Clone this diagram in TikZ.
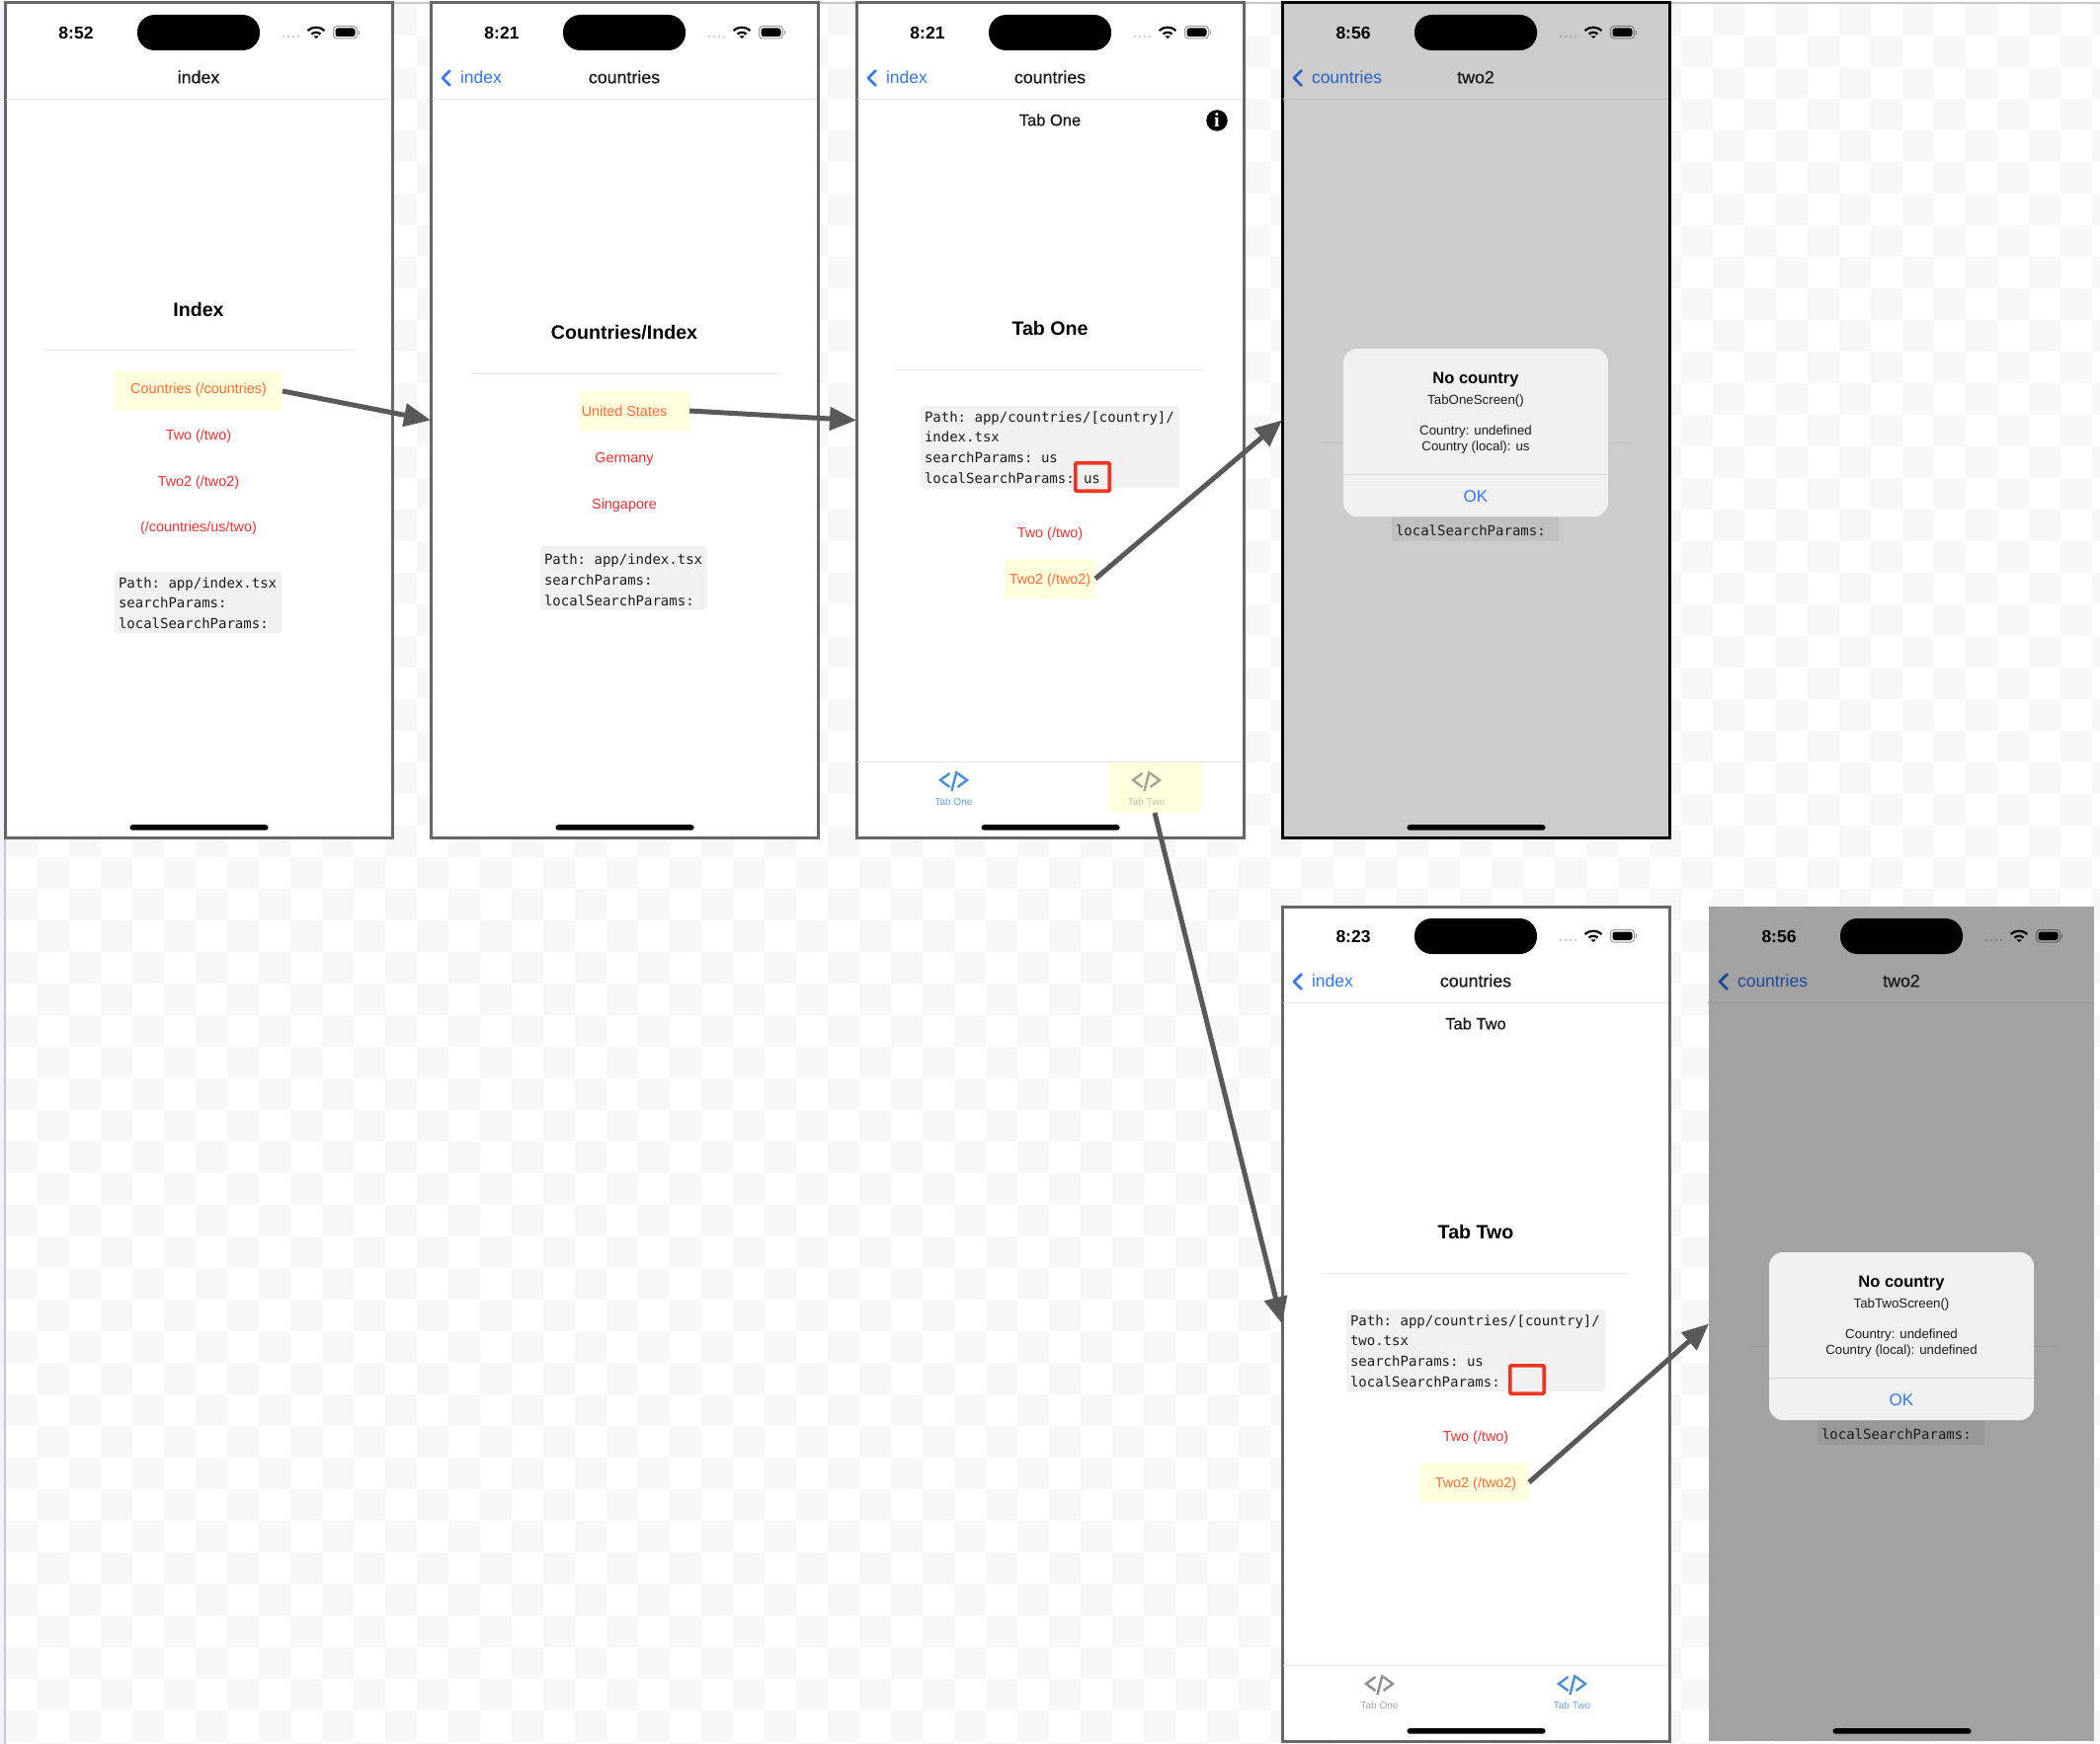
\documentclass[tikz,border=0pt]{standalone}
\usepackage{fontspec}
\setmainfont{Liberation Sans}
\setmonofont{DejaVu Sans Mono}
\newfontfamily\medfont[FakeBold=0.8]{Liberation Sans}
\newfontfamily\infofont{Liberation Serif}
\usetikzlibrary{arrows.meta}
\definecolor{chk}{HTML}{F7F7F7}
\definecolor{edgegray}{HTML}{C8C8C8}
\definecolor{phoneline}{HTML}{666666}
\definecolor{hair}{HTML}{E8E8E8}
\definecolor{iosblue}{HTML}{3478F6}
\definecolor{linkred}{HTML}{F32E2E}
\definecolor{hlorange}{HTML}{FF6A35}
\definecolor{hlfill}{HTML}{FFFFDD}
\definecolor{codefill}{HTML}{F1F1F1}
\definecolor{redbox}{HTML}{EE3524}
\definecolor{arrowgray}{HTML}{595959}
\definecolor{tabblue}{HTML}{4A90D9}
\definecolor{tabgray}{HTML}{8E8E8E}
\definecolor{alertfill}{HTML}{F0F0F0}
\definecolor{inktext}{HTML}{1C1C1C}
\definecolor{boxfour}{HTML}{C0C0C0}
\definecolor{boxsix}{HTML}{989898}
\definecolor{hairfour}{HTML}{BCBCBC}
\definecolor{hairsix}{HTML}{959595}
\newcommand{\fsz}[1]{\fontsize{#1}{#1}\selectfont}
\tikzset{
  txt/.style={inner sep=0pt,outer sep=0pt,anchor=mid,text=inktext,yshift=-2.7pt},
  phonebox/.style={rectangle,draw=phoneline,line width=3pt,fill=white,minimum width=392pt,minimum height=845pt,inner sep=0pt,outer sep=0pt},
  graybox/.style={rectangle,minimum width=390pt,minimum height=845pt,inner sep=0pt,outer sep=0pt},
  timelbl/.style={txt,font=\bfseries\fsz{17.5},text=black,yshift=-1.3pt},
  navtitle/.style={txt,font=\medfont\fsz{17.8}},
  navback/.style={txt,anchor=mid west,font=\fsz{17.5}},
  heading/.style={txt,font=\bfseries\fsz{19.6},text=black,yshift=-2.3pt},
  tabtitle/.style={txt,font=\medfont\fsz{16.5}},
  redlink/.style={txt,font=\fsz{14.4},text=linkred},
  hllink/.style={txt,font=\fsz{14.4},text=hlorange},
  hlbox/.style={rectangle,fill=hlfill,inner sep=0pt,outer sep=0pt},
  code/.style={txt,anchor=mid west,font=\ttfamily\fsz{14},yshift=1pt},
  arrowline/.style={draw=arrowgray,line width=5pt,-{Triangle[length=27pt,width=23pt]}},
  alertsmall/.style={txt,font=\fsz{13.3}},
  tablbl/.style={txt,font=\fsz{10},yshift=2.7pt},
}
% prefix, time, icon ink
\newcommand{\statusbar}[3]{%
  \node[timelbl] (#1time) at (77,33) {#2};
  \fill[black,rounded corners=17.5pt] (139,15) rectangle (263,51);
  \foreach \d in {287,292,297,302}{\fill[black,opacity=0.2] (\d,37) circle (1.4pt);}
  \fill[#3] (320,39) -- (317.4,36.4) -- (322.6,36.4) -- cycle;
  \draw[#3,line width=2.2pt] (315.5,34.5) .. controls (318,32.2) and (322,32.2) .. (324.5,34.5);
  \draw[#3,line width=2.2pt] (311.5,31) .. controls (316,26.6) and (324,26.6) .. (328.5,31);
  \draw[black,opacity=0.4,line width=1pt,rounded corners=3.5pt] (337.5,26.5) rectangle (361.5,39);
  \fill[#3,rounded corners=2.5pt] (339.5,28.5) rectangle (359.5,37);
  \fill[black,opacity=0.4] (362.5,31) rectangle (363.5,35);
  \fill[#3,rounded corners=2.5pt] (131.5,835.2) rectangle (271.5,840.6);
}
\newcommand{\headerline}[1]{\draw[#1,line width=1pt] (6,100.5) -- (396,100.5);}
\newcommand{\backchev}[1]{\draw[#1,line width=2.8pt,line cap=round,line join=round] (24.5,71.5) -- (17,79) -- (24.5,86.5);}
\newcommand{\codeicon}[2]{%
  \begin{scope}[shift={(#1,790)}]
    \draw[#2,line width=2.4pt,line join=miter] (-4,-7) -- (-13.5,0) -- (-4,7);
    \draw[#2,line width=2.4pt] (3,-9) -- (-2,11);
    \draw[#2,line width=2.4pt,line join=miter] (4,-7) -- (13.5,0) -- (4,7);
  \end{scope}}
% prefix, box fill, hair colour, screen name, local value
\newcommand{\alertblock}[5]{%
  \draw[#3,line width=1pt] (45,448.5) -- (358,448.5);
  \fill[#2,rounded corners=3pt] (116,520) rectangle (285,548);
  \node[code,text=inktext] (#1lsp) at (120,538) {localSearchParams:};
  \fill[alertfill,rounded corners=14pt] (67,353) rectangle (335,523);
  \node[txt,font=\bfseries\fsz{16.5},text=black] (#1no) at (201,383) {No country};
  \node[alertsmall] (#1scr) at (201,404) {#4};
  \node[alertsmall] (#1cu) at (201,435) {Country: undefined};
  \node[alertsmall] (#1cl) at (201,451) {Country (local): #5};
  \draw[hair!85!gray,line width=1pt] (67,480.5) -- (335,480.5);
  \node[txt,font=\fsz{17},text=iosblue] (#1ok) at (201,503) {OK};
}
\begin{document}
\begin{tikzpicture}[x=1pt,y=-1pt]
\useasboundingbox (0,0) rectangle (2126,1766);
\fill[white] (0,0) rectangle (2126,1766);
% checkerboard
\begin{scope}
  \clip (0,0) rectangle (2126,1766);
  \foreach \r in {0,2,...,54}{\foreach \c in {0,2,...,66}{\fill[chk] ({6+32*\c},{4+32*\r}) rectangle ++(32,32);}}
  \foreach \r in {1,3,...,55}{\foreach \c in {1,3,...,65}{\fill[chk] ({6+32*\c},{4+32*\r}) rectangle ++(32,32);}}
\end{scope}
\fill[white] (0,0) rectangle (2126,2);
\fill[edgegray] (0,2) rectangle (2126,4);
\fill[white!93!blue!50!chk] (0,0) rectangle (4,1766);
\fill[edgegray] (4,2) rectangle (6,1766);

% phone frames
\node[phonebox] (p1) at (201,425.5) {};
\node[phonebox] (p2) at (632,425.5) {};
\node[phonebox] (p3) at (1063,425.5) {};
\node[phonebox,draw=black,fill={rgb,255:red,204;green,204;blue,204}] (p4) at (1494,425.5) {};
\node[phonebox] (p5) at (1494,1340.5) {};
\node[graybox,fill={rgb,255:red,162;green,162;blue,162}] (p6) at (1925,1340.5) {};

% ---------- phone 1
\statusbar{a}{8:52}{black}
\headerline{hair}
\node[navtitle] (atitle) at (201,79) {index};
\node[heading] (ahead) at (201,313) {Index};
\draw[hair,line width=1pt] (45,354.5) -- (358,354.5);
\node[hlbox,minimum width=170pt,minimum height=40pt] (acountries) at (201,396) {};
\node[hllink] (acountriest) at (201,393.5) {Countries (/countries)};
\node[redlink] (atwo) at (201,440) {Two (/two)};
\node[redlink] (atwotwo) at (201,487) {Two2 (/two2)};
\node[redlink] (aus) at (201,533) {(/countries/us/two)};
\fill[codefill,rounded corners=3pt] (116,579) rectangle (285,641);
\node[code] (ac1) at (120,591) {Path: app/index.tsx};
\node[code] (ac2) at (120,611) {searchParams:};
\node[code] (ac3) at (120,632) {localSearchParams:};

% ---------- phone 2
\begin{scope}[shift={(431,0)}]
\statusbar{b}{8:21}{black}
\headerline{hair}
\backchev{iosblue}
\node[navback,text=iosblue] (bback) at (35,79) {index};
\node[navtitle] (btitle) at (201,79) {countries};
\node[heading] (bhead) at (201,336) {Countries/Index};
\draw[hair,line width=1pt] (45,378.5) -- (358,378.5);
\node[hlbox,minimum width=111pt,minimum height=40pt] (bus) at (211.5,416) {};
\node[hllink] (bust) at (201,416) {United States};
\node[redlink] (bde) at (201,463) {Germany};
\node[redlink] (bsg) at (201,510) {Singapore};
\fill[codefill,rounded corners=3pt] (116,553) rectangle (285,618);
\node[code] (bc1) at (120,567.5) {Path: app/index.tsx};
\node[code] (bc2) at (120,588.5) {searchParams:};
\node[code] (bc3) at (120,609.5) {localSearchParams:};
\end{scope}

% ---------- phone 3
\begin{scope}[shift={(862,0)}]
\statusbar{c}{8:21}{black}
\headerline{hair}
\backchev{iosblue}
\node[navback,text=iosblue] (cback) at (35,79) {index};
\node[navtitle] (ctitle) at (201,79) {countries};
\node[tabtitle] (ctab) at (201,122) {Tab One};
\node[circle,fill=black,minimum size=21.5pt,inner sep=0pt] (cinfo) at (370,122) {};
\node[txt,text=white,font=\infofont\bfseries\fsz{20},yshift=-1.5pt] (cinfoi) at (370,122) {i};
\node[heading] (chead) at (201,332) {Tab One};
\draw[hair,line width=1pt] (45,374) -- (356,374);
\fill[codefill,rounded corners=3pt] (70,411) rectangle (332,494);
\node[code] (cc1) at (74,423) {Path: app/countries/[country]/};
\node[code] (cc2) at (74,443) {index.tsx};
\node[code] (cc3) at (74,464) {searchParams: us};
\node[code] (cc4) at (74,485) {localSearchParams:};
\node[code] (cc5) at (235,485) {us};
\draw[redbox,line width=3.6pt,rounded corners=1pt] (226.8,468.8) rectangle (261.2,497.2);
\node[redlink] (ctwo) at (201,539) {Two (/two)};
\node[hlbox,minimum width=92pt,minimum height=40pt] (ctwotwo) at (201,586) {};
\node[hllink] (ctwotwot) at (201,586) {Two2 (/two2)};
\draw[hair,line width=1pt] (6,771.5) -- (396,771.5);
\node[hlbox,minimum width=93pt,minimum height=51pt] (ctabtwo) at (307,797.5) {};
\codeicon{103.5}{tabblue}
\codeicon{298.5}{black!30!hlfill!60!tabgray}
\node[tablbl,text=tabblue!85] (cl1) at (103.5,813) {Tab One};
\node[tablbl,text=hlfill!45!tabgray] (cl2) at (298.5,813) {Tab Two};
\end{scope}

% ---------- phone 4
\begin{scope}[shift={(1293,0)}]
\statusbar{d}{8:56}{black}
\draw[hairfour,line width=1pt] (6,100.5) -- (396,100.5);
\backchev{iosblue!80!black}
\node[navback,text=iosblue!80!black] (dback) at (35,79) {countries};
\node[navtitle] (dtitle) at (201,79) {two2};
\alertblock{d}{boxfour}{hairfour}{TabOneScreen()}{us}
\end{scope}

% ---------- phone 5
\begin{scope}[shift={(1293,915)}]
\statusbar{e}{8:23}{black}
\headerline{hair}
\backchev{iosblue}
\node[navback,text=iosblue] (eback) at (35,79) {index};
\node[navtitle] (etitle) at (201,79) {countries};
\node[tabtitle] (etab) at (201,122) {Tab Two};
\node[heading] (ehead) at (201,332) {Tab Two};
\draw[hair,line width=1pt] (45,374) -- (356,374);
\fill[codefill,rounded corners=3pt] (70,411) rectangle (332,494);
\node[code] (ec1) at (74,423) {Path: app/countries/[country]/};
\node[code] (ec2) at (74,443) {two.tsx};
\node[code] (ec3) at (74,464) {searchParams: us};
\node[code] (ec4) at (74,485) {localSearchParams:};
\draw[redbox,line width=3.6pt,rounded corners=1pt] (235.8,467.8) rectangle (270.2,496.2);
\node[redlink] (etwo) at (201,539) {Two (/two)};
\node[hlbox,minimum width=111pt,minimum height=40pt] (etwotwo) at (199.5,586) {};
\node[hllink] (etwotwot) at (201,586) {Two2 (/two2)};
\draw[hair,line width=1pt] (6,771.5) -- (396,771.5);
\codeicon{103.5}{tabgray}
\codeicon{298.5}{tabblue}
\node[tablbl,text=tabgray!80] (el1) at (103.5,813) {Tab One};
\node[tablbl,text=tabblue!85] (el2) at (298.5,813) {Tab Two};
\end{scope}

% ---------- phone 6
\begin{scope}[shift={(1724,915)}]
\statusbar{f}{8:56}{black}
\draw[hairsix,line width=1pt] (5,100.5) -- (396,100.5);
\backchev{iosblue!60!black}
\node[navback,text=iosblue!60!black] (fback) at (35,79) {countries};
\node[navtitle] (ftitle) at (201,79) {two2};
\alertblock{f}{boxsix}{hairsix}{TabTwoScreen()}{undefined}
\end{scope}

% connectors
\draw[arrowline] (acountries.east) -- (p2.west);
\draw[arrowline] (bus.east) -- (p3.west);
\draw[arrowline] (ctwotwo.east) -- (p4.west);
\draw[arrowline] (ctabtwo.south) -- (p5.west);
\draw[arrowline] (etwotwo.east) -- (p6.west);
\end{tikzpicture}
\end{document}
